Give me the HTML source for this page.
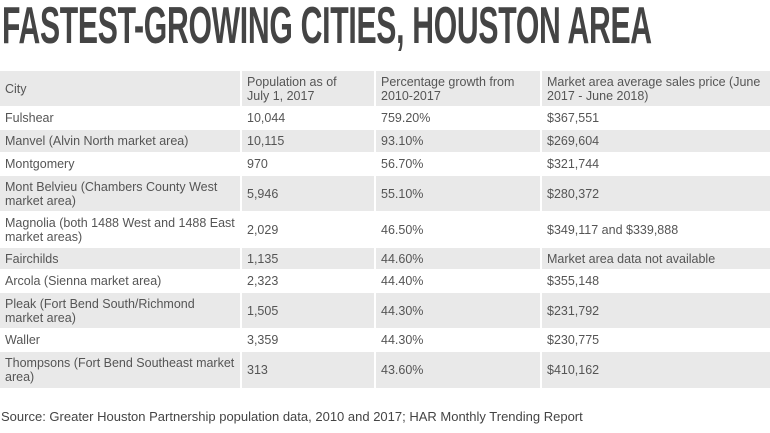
<!DOCTYPE html>
<html><head><meta charset="utf-8"><style>
html,body{margin:0;padding:0;background:#fff;width:770px;height:433px;overflow:hidden;font-family:"Liberation Sans",sans-serif;color:#555;}
.title{position:absolute;left:2px;top:-4px;font-size:52px;font-weight:bold;color:#444;white-space:nowrap;transform:scaleX(0.58);transform-origin:0 0;letter-spacing:-0.5px;}
.r{position:absolute;left:0;width:770px;}
.c{position:absolute;top:0;bottom:0;display:flex;align-items:center;font-size:12.5px;line-height:14px;padding-left:5px;box-sizing:border-box;}
.g .c{background:#e9e9e9;}
.c1{left:0;width:240px}.c2{left:242px;width:132px}.c3{left:376px;width:164px}.c4{left:542px;width:228px}
.src{position:absolute;left:1px;top:409px;font-size:13px;color:#444;}
</style></head><body>
<div class="title">FASTEST-GROWING CITIES, HOUSTON AREA</div>
<div class="r g" style="top:71px;height:35px"><div class="c c1">City</div><div class="c c2">Population as of<br>July 1, 2017</div><div class="c c3">Percentage growth from<br>2010-2017</div><div class="c c4">Market area average sales price (June<br>2017 - June 2018)</div></div>
<div class="r" style="top:107px;height:22px"><div class="c c1">Fulshear</div><div class="c c2">10,044</div><div class="c c3">759.20%</div><div class="c c4">$367,551</div></div>
<div class="r g" style="top:130px;height:22px"><div class="c c1">Manvel (Alvin North market area)</div><div class="c c2">10,115</div><div class="c c3">93.10%</div><div class="c c4">$269,604</div></div>
<div class="r" style="top:153px;height:22px"><div class="c c1">Montgomery</div><div class="c c2">970</div><div class="c c3">56.70%</div><div class="c c4">$321,744</div></div>
<div class="r g" style="top:176px;height:35px"><div class="c c1">Mont Belvieu (Chambers County West<br>market area)</div><div class="c c2">5,946</div><div class="c c3">55.10%</div><div class="c c4">$280,372</div></div>
<div class="r" style="top:212px;height:35px"><div class="c c1">Magnolia (both 1488 West and 1488 East<br>market areas)</div><div class="c c2">2,029</div><div class="c c3">46.50%</div><div class="c c4">$349,117 and $339,888</div></div>
<div class="r g" style="top:248px;height:21px"><div class="c c1">Fairchilds</div><div class="c c2">1,135</div><div class="c c3">44.60%</div><div class="c c4">Market area data not available</div></div>
<div class="r" style="top:270px;height:22px"><div class="c c1">Arcola (Sienna market area)</div><div class="c c2">2,323</div><div class="c c3">44.40%</div><div class="c c4">$355,148</div></div>
<div class="r g" style="top:293px;height:35px"><div class="c c1">Pleak (Fort Bend South/Richmond<br>market area)</div><div class="c c2">1,505</div><div class="c c3">44.30%</div><div class="c c4">$231,792</div></div>
<div class="r" style="top:329px;height:22px"><div class="c c1">Waller</div><div class="c c2">3,359</div><div class="c c3">44.30%</div><div class="c c4">$230,775</div></div>
<div class="r g" style="top:352px;height:36px"><div class="c c1">Thompsons (Fort Bend Southeast market<br>area)</div><div class="c c2">313</div><div class="c c3">43.60%</div><div class="c c4">$410,162</div></div>
<div class="src">Source: Greater Houston Partnership population data, 2010 and 2017; HAR Monthly Trending Report</div>
</body></html>
